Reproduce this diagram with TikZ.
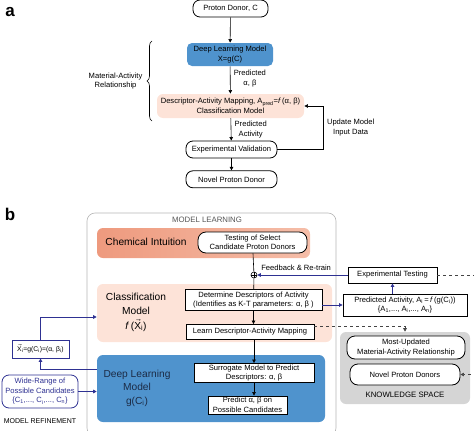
\documentclass[tikz,border=0pt]{standalone}
\usepackage{fontspec}
\setmainfont{Liberation Sans}
\usepackage{tikz}
\usetikzlibrary{arrows.meta, positioning}
\usetikzlibrary{decorations.pathreplacing}

\definecolor{dlblue}{HTML}{4F93CD}
\definecolor{clspink}{HTML}{FDE3D8}
\definecolor{salmonA}{HTML}{EE9A7E}
\definecolor{salmonB}{HTML}{F5BDA8}
\definecolor{navy}{HTML}{2E3192}
\definecolor{ksgray}{HTML}{D5D5D5}
\definecolor{mlgray}{HTML}{B5B5B5}
\definecolor{capgray}{HTML}{555555}
\definecolor{dltext}{HTML}{1C2B45}
\definecolor{dgray}{HTML}{444444}

\begin{document}
\begin{tikzpicture}[x=1pt, y=-1pt, line width=0.6pt,
        >={Triangle[length=3.5pt,width=3.5pt]},
        font=\fontsize{7.6}{9.5}\selectfont,
        box/.style={draw, fill=white, align=center, inner sep=1pt, line width=0.8pt},
        pill/.style={box, rounded corners=7pt},
        band/.style={rounded corners=6pt, inner sep=0pt},
        big/.style={align=center, font=\fontsize{10.2}{13.5}\selectfont},
        lbl/.style={align=center},
        capstext/.style={font=\fontsize{7.8}{8}\selectfont},
        nvline/.style={draw=navy, line width=0.7pt}]
    \useasboundingbox (0,0) rectangle (474,431);

    % panel a
    \node[font=\fontsize{17}{17}\bfseries\selectfont] (la) at (10,12) {a};
    \node[pill, minimum width=75pt, minimum height=17pt] (a1) at (230.5,8.5) {Proton Donor, C};
    \node[box, draw=none, fill=dlblue, rounded corners=5pt, minimum width=86pt, minimum height=23pt] (a2) at (230,54.5) {Deep Learning Model\\X=g(C)};
    \node[box, draw=none, fill=clspink, rounded corners=6pt, minimum width=147pt, minimum height=24pt] (a3) at (230.5,106) {Descriptor-Activity Mapping, A\textsubscript{pred}=\textit{f}\,(α, β)\\Classification Model};
    \node[pill, minimum width=91pt, minimum height=17pt] (a4) at (231.5,149.5) {Experimental Validation};
    \node[pill, minimum width=91pt, minimum height=17pt] (a5) [below=12pt of a4] {Novel Proton Donor};
    \draw[->] (a1) -- (a2);
    \draw[->] (a2) -- node[lbl, right, pos=0.45] {Predicted\\α, β} (a3);
    \draw[->] (a3) -- node[lbl, right] {Predicted\\Activity} (a4);
    \draw[->] (a4) -- (a5);
    \draw[->] (a4.east) -- ++(46,0) |- node[lbl, pos=0.25, right] {Update Model\\Input Data} (a3.east);
    \draw[decorate, decoration={brace, amplitude=5pt}] (152,121) -- (152,41) node[lbl, midway, left=6pt] {Material-Activity\\Relationship};

    % panel b
    \node[font=\fontsize{17}{17}\bfseries\selectfont] (lb) at (10,214) {b};
    \node[draw=mlgray, rounded corners=8pt, minimum width=249pt, minimum height=223pt, inner sep=0pt] (ml) at (211.5,324.5) {};
    \node[capstext, text=capgray] (mlt) at (207,219.5) {MODEL LEARNING};
    \node[band, left color=salmonA, right color=salmonB, minimum width=213pt, minimum height=30pt] (chem) at (203.5,243) {};
    \node[band, fill=clspink, minimum width=235pt, minimum height=58pt] (cls) at (214.5,313) {};
    \node[band, fill=dlblue, minimum width=228pt, minimum height=67pt] (dl) at (211,388.5) {};
    \node[big] (chemt) at (146,242) {Chemical Intuition};
    \node[big, font=\fontsize{10.2}{14.5}\selectfont] (clst) at (136,312) {Classification\\Model\\\textit{f}\,($\vec{\mbox{X}}$\textsubscript{i})};
    \node[big, text=dltext] (dlt) at (137,388) {Deep Learning\\Model\\g(C\textsubscript{i})};

    \node[pill, rounded corners=8pt, minimum width=109pt, minimum height=21pt] (b1) at (252.5,242.5) {Testing of Select\\Candidate Proton Donors};
    \node[circle, draw, inner sep=0pt, minimum size=6pt] (sum) at (254,275) {};
    \draw (sum.north) -- (sum.south) (sum.west) -- (sum.east);
    \node[box, minimum width=137pt, minimum height=21pt] (b2) at (253.5,300) {Determine Descriptors of Activity\\(Identifies as K-T parameters: α, β )};
    \node[box, minimum width=128pt, minimum height=15pt] (b3) at (250,332) {Learn Descriptor-Activity Mapping};
    \node[box, minimum width=120pt, minimum height=19pt] (b4) at (254,373) {Surrogate Model to Predict\\Descriptors: α, β};
    \node[box, minimum width=79pt, minimum height=18pt] (b5) at (247.5,405) {Predict α, β on\\Possible Candidates};

    \node[box, draw=navy, minimum width=57pt, minimum height=18pt, font=\fontsize{6.8}{8}\selectfont] (b6) at (40.5,349) {$\vec{\mbox{X}}$\textsubscript{i}=g(C\textsubscript{i})=(α, β\textsubscript{i})};
    \node[pill, draw=navy, text=navy, minimum width=76pt, minimum height=33pt] (b7) at (40,391.5) {Wide-Range of\\Possible Candidates\\\{C\textsubscript{1},..., C\textsubscript{i},..., C\textsubscript{n}\}};
    \node[capstext, font=\fontsize{7}{8}\selectfont] (mr) at (40,421) {MODEL REFINEMENT};

    \node[box, minimum width=89pt, minimum height=16pt] (b8) at (392.5,275) {Experimental Testing};
    \node[box, minimum width=124pt, minimum height=22pt] (b9) at (405,305) {Predicted Activity, A\textsubscript{i}\,=\,\textit{f}\,(g(C\textsubscript{i}))\\\{A\textsubscript{1},..., A\textsubscript{i},..., A\textsubscript{n}\}};
    \node[band, fill=ksgray, minimum width=130pt, minimum height=72pt] (ks) at (405,368) {};
    \node[pill, rounded corners=8pt, minimum width=118pt, minimum height=23pt] (b10) at (406,347.5) {Most-Updated\\Material-Activity Relationship};
    \node[pill, rounded corners=8pt, minimum width=110pt, minimum height=21pt] (b11) at (405,374.5) {Novel Proton Donors};
    \node[capstext] (kst) at (405,395) {KNOWLEDGE SPACE};

    \draw (b1) -- (sum);
    \draw (sum) -- (b2);
    \draw[->] (b2) -- (b2 |- b3.north);
    \draw[->] (b3.south -| b4) -- (b4);
    \draw[->] (b4) -- (b4 |- b5.north);
    \draw[nvline, ->] (b8.west) -- node[lbl, text=black, above=1pt, pos=0.57] {Feedback \& Re-train} (sum.east);
    \draw[nvline, ->] (b9.north -| b8) -- (b8.south);
    \draw[nvline, ->] (b2.east |- b9) -- (b9.west);
    \draw[dashed, dgray, ->] ([yshift=6pt]b3.east) -| (ks.north);
    \draw[dashed, dgray, ->] (b8.east) -- ++(45,0) |- (b11.east);
    \draw[nvline, ->] (dl.west |- 0,369) -| (b6.south);
    \draw[nvline, ->] (b6.north) |- ([yshift=-4pt]cls.west);
    \draw[nvline, ->] (b7.east) -- (b7.east -| dl.west);
\end{tikzpicture}
\end{document}
